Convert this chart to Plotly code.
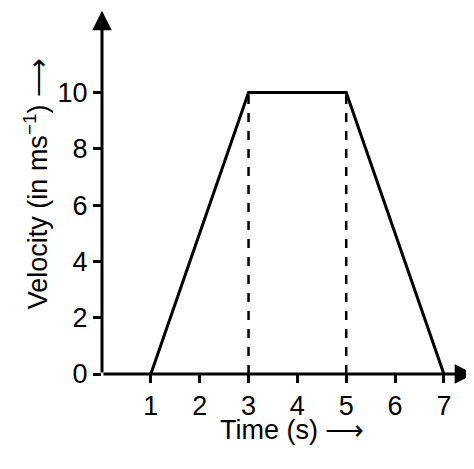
import plotly.graph_objs as go

# velocity-time data
time = [1, 3, 5, 7]
velocity = [0, 10, 10, 0]
dash_x = [3, 5]
dash_top = 10
x_ticks = [1, 2, 3, 4, 5, 6, 7]
y_ticks = [0, 2, 4, 6, 8, 10]

font = dict(family="Liberation Sans, Arial", size=27, color="black")

fig = go.Figure()
fig.add_trace(go.Scatter(x=time, y=velocity, mode="lines",
                         line=dict(color="black", width=3)))
for xd in dash_x:
    fig.add_trace(go.Scatter(x=[xd, xd], y=[0, dash_top], mode="lines",
                             line=dict(color="black", width=2.5, dash="dash")))

# axes with arrows
fig.add_annotation(x=7.62, y=0, ax=0, ay=0, axref="x", ayref="y",
                   xref="x", yref="y", showarrow=True, arrowhead=2,
                   arrowsize=1.3, arrowwidth=3, arrowcolor="black", text="")
fig.add_annotation(x=0, y=12.9, ax=0, ay=0, axref="x", ayref="y",
                   xref="x", yref="y", showarrow=True, arrowhead=2,
                   arrowsize=1.3, arrowwidth=3, arrowcolor="black", text="")

fig.add_annotation(text="Velocity (in ms<sup>−1</sup>) ⟶", textangle=-90,
                   xref="paper", yref="paper", x=-0.225, y=0.52,
                   showarrow=False, font=font)
fig.add_annotation(text="Time (s) ⟶", xref="paper", yref="paper",
                   x=0.5, y=-0.2, showarrow=False, font=font)

fig.update_layout(
    width=474, height=469, showlegend=False,
    plot_bgcolor="white", paper_bgcolor="white",
    margin=dict(l=94, r=0, t=0, b=103),
    xaxis=dict(range=[0, 7.78], tickvals=x_ticks, ticks="outside",
               ticklen=8, tickwidth=2.5, tickcolor="black",
               showgrid=False, zeroline=False, showline=False,
               tickfont=font),
    yaxis=dict(range=[0, 13.0], tickvals=y_ticks, ticks="outside",
               ticklen=8, tickwidth=2.5, tickcolor="black",
               showgrid=False, zeroline=False, showline=False,
               tickfont=font),
)
fig.write_html("out.html")
